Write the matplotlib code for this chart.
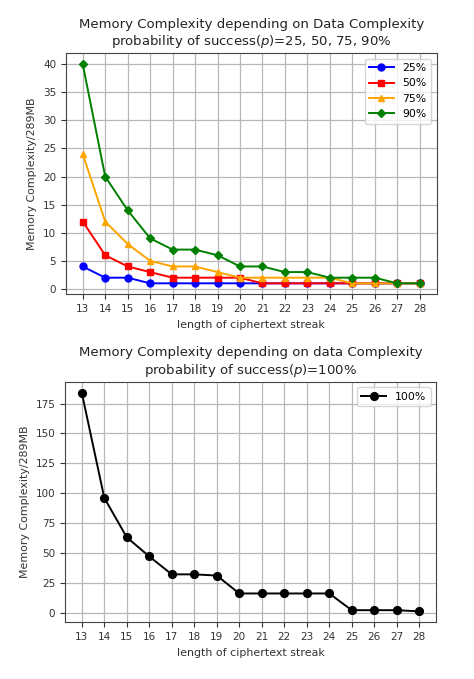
import matplotlib
matplotlib.use("Agg")
import matplotlib.pyplot as plt

streak = [13, 14, 15, 16, 17, 18, 19, 20, 21, 22, 23, 24, 25, 26, 27, 28]
p25 = [4, 2, 2, 1, 1, 1, 1, 1, 1, 1, 1, 1, 1, 1, 1, 1]
p50 = [12, 6, 4, 3, 2, 2, 2, 2, 1, 1, 1, 1, 1, 1, 1, 1]
p75 = [24, 12, 8, 5, 4, 4, 3, 2, 2, 2, 2, 2, 1, 1, 1, 1]
p90 = [40, 20, 14, 9, 7, 7, 6, 4, 4, 3, 3, 2, 2, 2, 1, 1]
p100 = [184, 96, 63, 47, 32, 32, 31, 16, 16, 16, 16, 16, 2, 2, 2, 1]

fig = plt.figure(figsize=(4.74, 6.79), dpi=100)
ax1 = fig.add_axes([0.139, 0.5666, 0.782, 0.355])
ax2 = fig.add_axes([0.137, 0.0835, 0.783, 0.354])

fs_tick = 7.5
fs_label = 7.9
fs_title = 9.5
fs_leg = 7.8
lw = 1.4
ms = 5

ax1.plot(streak, p25, color='blue', marker='o', lw=lw, ms=ms, label='25%')
ax1.plot(streak, p50, color='red', marker='s', lw=lw, ms=ms, label='50%')
ax1.plot(streak, p75, color='orange', marker='^', lw=lw, ms=ms, label='75%')
ax1.plot(streak, p90, color='green', marker='D', lw=lw, ms=ms - 0.5, label='90%')
ax1.set_title('Memory Complexity depending on Data Complexity\nprobability of success($p$)=25, 50, 75, 90%',
              fontsize=fs_title, color='#222222')
ax1.set_yticks([0, 5, 10, 15, 20, 25, 30, 35, 40])

ax2.plot(streak, p100, color='black', marker='o', lw=lw, ms=ms + 0.6, label='100%')
ax2.set_title('Memory Complexity depending on data Complexity\nprobability of success($p$)=100%',
              fontsize=fs_title, color='#222222')
ax2.set_yticks([0, 25, 50, 75, 100, 125, 150, 175])

for ax in (ax1, ax2):
    ax.set_xticks(streak)
    ax.tick_params(labelsize=fs_tick, colors='#333333')
    ax.grid(True, color='#b8b8b8', lw=0.9)
    ax.set_axisbelow(True)
    ax.set_xlabel('length of ciphertext streak', fontsize=fs_label, color='#333333')
    ax.set_ylabel('Memory Complexity/289MB', fontsize=fs_label, color='#333333')
    ax.legend(loc='upper right', fontsize=fs_leg, handlelength=2.3)
    for s in ax.spines.values():
        s.set_color('#444444')

fig.savefig('out.png', dpi=100)
